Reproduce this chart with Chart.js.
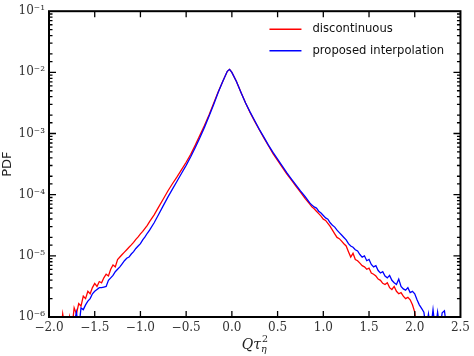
<!DOCTYPE html>
<html>
<head>
<meta charset="utf-8">
<script src="https://cdn.jsdelivr.net/npm/chart.js@4/dist/chart.umd.min.js"></script>
<style>
  html, body { margin: 0; padding: 0; background: #fff; }
  canvas { display: block; }
</style>
</head>
<body>
<canvas id="c" width="474" height="356"></canvas>
<script>
// ---- data ----
const seriesNames = ['discontinuous', 'proposed interpolation'];
const xTitle = { base: 'Qτ', sup: '2', sub: 'η' };
const yTitle = 'PDF';
const xTickStep = 0.5;
const xRange = [-2.0, 2.5];
const yRange = [1e-6, 1e-1];

const qValues = [
  -1.95, -1.925, -1.9, -1.875, -1.85, -1.825, -1.8, -1.775, -1.75, -1.725,
  -1.7, -1.675, -1.65, -1.625, -1.6, -1.575, -1.55, -1.525, -1.5, -1.475,
  -1.45, -1.425, -1.4, -1.375, -1.35, -1.325, -1.3, -1.275, -1.25, -1.225,
  -1.2, -1.175, -1.15, -1.125, -1.1, -1.075, -1.05, -1.025, -1.0, -0.975,
  -0.95, -0.925, -0.9,
  -0.85, -0.8, -0.75, -0.7, -0.65, -0.6, -0.55, -0.5, -0.45, -0.4,
  -0.35, -0.3, -0.25, -0.2, -0.15, -0.1, -0.05, -0.025,
  0.0, 0.05, 0.1, 0.15, 0.2, 0.25, 0.3, 0.35, 0.4, 0.45,
  0.5, 0.55, 0.6, 0.65, 0.7, 0.75, 0.8, 0.85,
  0.875, 0.9, 0.925, 0.95, 0.975, 1.0, 1.025, 1.05, 1.075, 1.1,
  1.125, 1.15, 1.175, 1.2, 1.225, 1.25, 1.275, 1.3, 1.325, 1.35,
  1.375, 1.4, 1.425, 1.45, 1.475, 1.5, 1.525, 1.55, 1.575, 1.6,
  1.625, 1.65, 1.675, 1.7, 1.725, 1.75, 1.775, 1.8, 1.825, 1.85,
  1.875, 1.9, 1.925, 1.95, 1.975, 2.0, 2.025, 2.05, 2.075, 2.1,
  2.125, 2.15, 2.175, 2.2, 2.225, 2.25, 2.275, 2.3, 2.325, 2.35,
  2.375, 2.4
];

const discontinuous = [
  5.0e-7, 8.9e-7, 5.0e-7, 5.0e-7, 1.12e-6, 6.3e-7, 5.0e-7, 1.0e-6, 6.3e-7, 1.41e-6,
  1.12e-6, 1.66e-6, 1.51e-6, 2.19e-6, 2.0e-6, 2.63e-6, 2.4e-6, 3.02e-6, 3.55e-6, 3.16e-6,
  3.8e-6, 3.63e-6, 4.37e-6, 5.01e-6, 4.68e-6, 6.03e-6, 7.08e-6, 6.61e-6, 8.71e-6, 9.55e-6,
  1.05e-5, 1.15e-5, 1.26e-5, 1.38e-5, 1.51e-5, 1.66e-5, 1.86e-5, 2.04e-5, 2.29e-5, 2.51e-5,
  2.82e-5, 3.16e-5, 3.63e-5,
  4.68e-5, 6.31e-5, 8.51e-5, 1.15e-4, 1.51e-4, 1.95e-4, 2.57e-4, 3.39e-4, 4.57e-4, 6.46e-4,
  9.33e-4, 1.35e-3, 2.0e-3, 3.09e-3, 4.79e-3, 7.1e-3, 1.04e-2, 1.12e-2,
  1.0e-2, 7.08e-3, 4.68e-3, 3.16e-3, 2.19e-3, 1.58e-3, 1.15e-3, 8.51e-4, 6.31e-4, 4.68e-4,
  3.63e-4, 2.82e-4, 2.19e-4, 1.74e-4, 1.38e-4, 1.10e-4, 8.71e-5, 7.08e-5,
  6.31e-5, 5.89e-5, 5.37e-5, 4.90e-5, 4.47e-5, 3.98e-5, 3.80e-5, 3.39e-5, 3.02e-5, 2.63e-5,
  2.29e-5, 2.0e-5, 1.91e-5, 1.74e-5, 1.58e-5, 1.45e-5, 1.17e-5, 9.55e-6, 1.10e-5, 8.71e-6,
  8.32e-6, 7.59e-6, 6.92e-6, 6.61e-6, 6.03e-6, 6.31e-6, 5.25e-6, 5.01e-6, 4.68e-6, 4.17e-6,
  3.98e-6, 3.55e-6, 3.39e-6, 3.63e-6, 3.02e-6, 2.82e-6, 3.16e-6, 2.63e-6, 2.40e-6, 2.51e-6,
  2.19e-6, 2.0e-6, 2.09e-6, 1.91e-6, 1.58e-6, 1.20e-6, 5.0e-7, null, null, null,
  null, null, null, null, null, null, null, null, null, null,
  null, null
];

const proposedInterpolation = [
  null, null, null, null, null, null, null, null, 5.0e-7, 7.9e-7,
  1.20e-6, 6.3e-7, 1.41e-6, 1.32e-6, 1.58e-6, 1.82e-6, 2.0e-6, 2.40e-6, 2.63e-6, 2.82e-6,
  3.02e-6, 3.02e-6, 3.09e-6, 3.16e-6, 3.98e-6, 4.37e-6, 4.79e-6, 5.50e-6, 6.03e-6, 6.61e-6,
  7.41e-6, 8.32e-6, 9.12e-6, 9.55e-6, 1.07e-5, 1.17e-5, 1.32e-5, 1.45e-5, 1.58e-5, 1.82e-5,
  2.04e-5, 2.34e-5, 2.63e-5,
  3.47e-5, 4.79e-5, 6.61e-5, 9.12e-5, 1.23e-4, 1.66e-4, 2.24e-4, 3.02e-4, 4.17e-4, 5.89e-4,
  8.51e-4, 1.26e-3, 1.91e-3, 2.95e-3, 4.68e-3, 7.1e-3, 1.04e-2, 1.12e-2,
  1.0e-2, 7.08e-3, 4.68e-3, 3.16e-3, 2.24e-3, 1.62e-3, 1.17e-3, 8.71e-4, 6.46e-4, 4.90e-4,
  3.80e-4, 2.95e-4, 2.29e-4, 1.82e-4, 1.45e-4, 1.15e-4, 9.33e-5, 7.41e-5,
  6.76e-5, 6.31e-5, 6.03e-5, 5.37e-5, 5.01e-5, 4.57e-5, 4.17e-5, 3.98e-5, 3.47e-5, 3.16e-5,
  2.95e-5, 2.63e-5, 2.40e-5, 2.19e-5, 2.0e-5, 1.82e-5, 1.58e-5, 1.45e-5, 1.38e-5, 1.26e-5,
  1.20e-5, 1.05e-5, 9.55e-6, 1.0e-5, 8.32e-6, 8.71e-6, 7.24e-6, 6.61e-6, 6.92e-6, 5.75e-6,
  5.25e-6, 5.50e-6, 4.68e-6, 4.37e-6, 4.79e-6, 3.98e-6, 3.63e-6, 3.39e-6, 4.17e-6, 3.16e-6,
  2.88e-6, 2.75e-6, 3.02e-6, 2.51e-6, 2.63e-6, 2.40e-6, 1.91e-6, 1.58e-6, 1.38e-6, 1.20e-6,
  6.3e-7, 1.12e-6, 6.3e-7, 1.32e-6, 6.3e-7, 1.20e-6, 6.3e-7, 1.17e-6, 1.26e-6, 6.3e-7,
  5.0e-7, null
];

// ---- helpers ----
const SUP = { '-': '⁻', '0': '⁰', '1': '¹', '2': '²', '3': '³', '4': '⁴', '5': '⁵', '6': '⁶', '7': '⁷', '8': '⁸', '9': '⁹' };
function isPow10(v) {
  const e = Math.log10(v);
  return Math.abs(e - Math.round(e)) < 1e-6;
}
function toPoints(ys) {
  return qValues.map((q, i) => ({ x: q, y: ys[i] }));
}

const frameAndDecor = {
  id: 'frameAndDecor',
  afterDraw(chart) {
    const { ctx, chartArea } = chart;
    const { left, right, top, bottom } = chartArea;
    const xs = chart.scales.x, ys = chart.scales.y;
    ctx.save();
    ctx.strokeStyle = '#000';
    ctx.lineWidth = 1.3;
    ctx.beginPath();
    xs.ticks.forEach(t => {
      const px = xs.getPixelForValue(t.value);
      if (px <= left + 1 || px >= right - 1) return;
      ctx.moveTo(px, bottom); ctx.lineTo(px, bottom - 6);
      ctx.moveTo(px, top); ctx.lineTo(px, top + 6);
    });
    ys.ticks.forEach(t => {
      const py = ys.getPixelForValue(t.value);
      if (py <= top + 1 || py >= bottom - 1) return;
      const len = isPow10(t.value) ? 7 : 3.5;
      ctx.moveTo(left, py); ctx.lineTo(left + len, py);
      ctx.moveTo(right, py); ctx.lineTo(right - len, py);
    });
    ctx.stroke();
    ctx.lineWidth = 2;
    ctx.strokeRect(left, top, right - left, bottom - top);

    // legend
    const ds = chart.data.datasets;
    ctx.font = '11.6px "DejaVu Sans"';
    ctx.textBaseline = 'middle';
    ctx.textAlign = 'left';
    ds.forEach((d, i) => {
      const y = top + 18 + i * 21.6;
      ctx.strokeStyle = d.borderColor;
      ctx.lineWidth = 1.5;
      ctx.beginPath();
      ctx.moveTo(right - 191, y); ctx.lineTo(right - 159, y);
      ctx.stroke();
      ctx.fillStyle = '#111';
      ctx.fillText(d.label, right - 148, y);
    });

    // x-axis title: Q tau_eta^2
    ctx.fillStyle = '#222';
    ctx.textBaseline = 'alphabetic';
    const big = 'italic 14px "DejaVu Serif"';
    const small = 'italic 9.5px "DejaVu Serif"';
    const smallUp = '9.5px "DejaVu Serif"';
    ctx.font = big;
    const wBase = ctx.measureText(xTitle.base).width;
    ctx.font = small;
    const wSub = ctx.measureText(xTitle.sub).width;
    const total = wBase + wSub + 1;
    const cx = (left + right) / 2;
    const x0 = cx - total / 2;
    const baseY = 349;
    ctx.font = big;
    ctx.fillText(xTitle.base, x0, baseY);
    ctx.font = smallUp;
    ctx.fillText(xTitle.sup, x0 + wBase + 1, baseY - 7);
    ctx.font = small;
    ctx.fillText(xTitle.sub, x0 + wBase, baseY + 2.5);
    ctx.restore();
  }
};

new Chart(document.getElementById('c'), {
  type: 'line',
  data: {
    datasets: [
      { label: seriesNames[0], data: toPoints(discontinuous), borderColor: '#ff0000',
        borderWidth: 1.3, pointRadius: 0, tension: 0, spanGaps: false, order: 1 },
      { label: seriesNames[1], data: toPoints(proposedInterpolation), borderColor: '#0000ff',
        borderWidth: 1.3, pointRadius: 0, tension: 0, spanGaps: false, order: 0 }
    ]
  },
  options: {
    responsive: false,
    animation: false,
    events: [],
    layout: { padding: { top: 9, right: 10, left: 0, bottom: 0 } },
    scales: {
      x: {
        type: 'linear',
        min: xRange[0], max: xRange[1],
        ticks: {
          stepSize: xTickStep,
          autoSkip: false,
          maxRotation: 0,
          padding: 4,
          color: '#333',
          font: { family: 'DejaVu Serif', size: 12 },
          callback: v => v.toFixed(1).replace('-', '−')
        },
        grid: { display: false, drawTicks: false },
        border: { display: false },
        afterFit: s => { s.height = 39; }
      },
      y: {
        type: 'logarithmic',
        min: yRange[0], max: yRange[1],
        ticks: {
          autoSkip: false,
          padding: 4,
          color: '#333',
          font: { family: 'DejaVu Serif', size: 12 },
          callback: v => {
            if (!isPow10(v)) return '';
            const e = String(Math.round(Math.log10(v)));
            return '10' + e.split('').map(c => SUP[c]).join('');
          }
        },
        title: {
          display: true, text: yTitle, color: '#222',
          font: { family: 'DejaVu Sans', size: 13 },
          padding: { top: 0, bottom: 0 }
        },
        grid: { display: false, drawTicks: false },
        border: { display: false },
        afterFit: s => { s.width = 49; }
      }
    },
    plugins: { legend: { display: false }, tooltip: { enabled: false } }
  },
  plugins: [frameAndDecor]
});
</script>
</body>
</html>
